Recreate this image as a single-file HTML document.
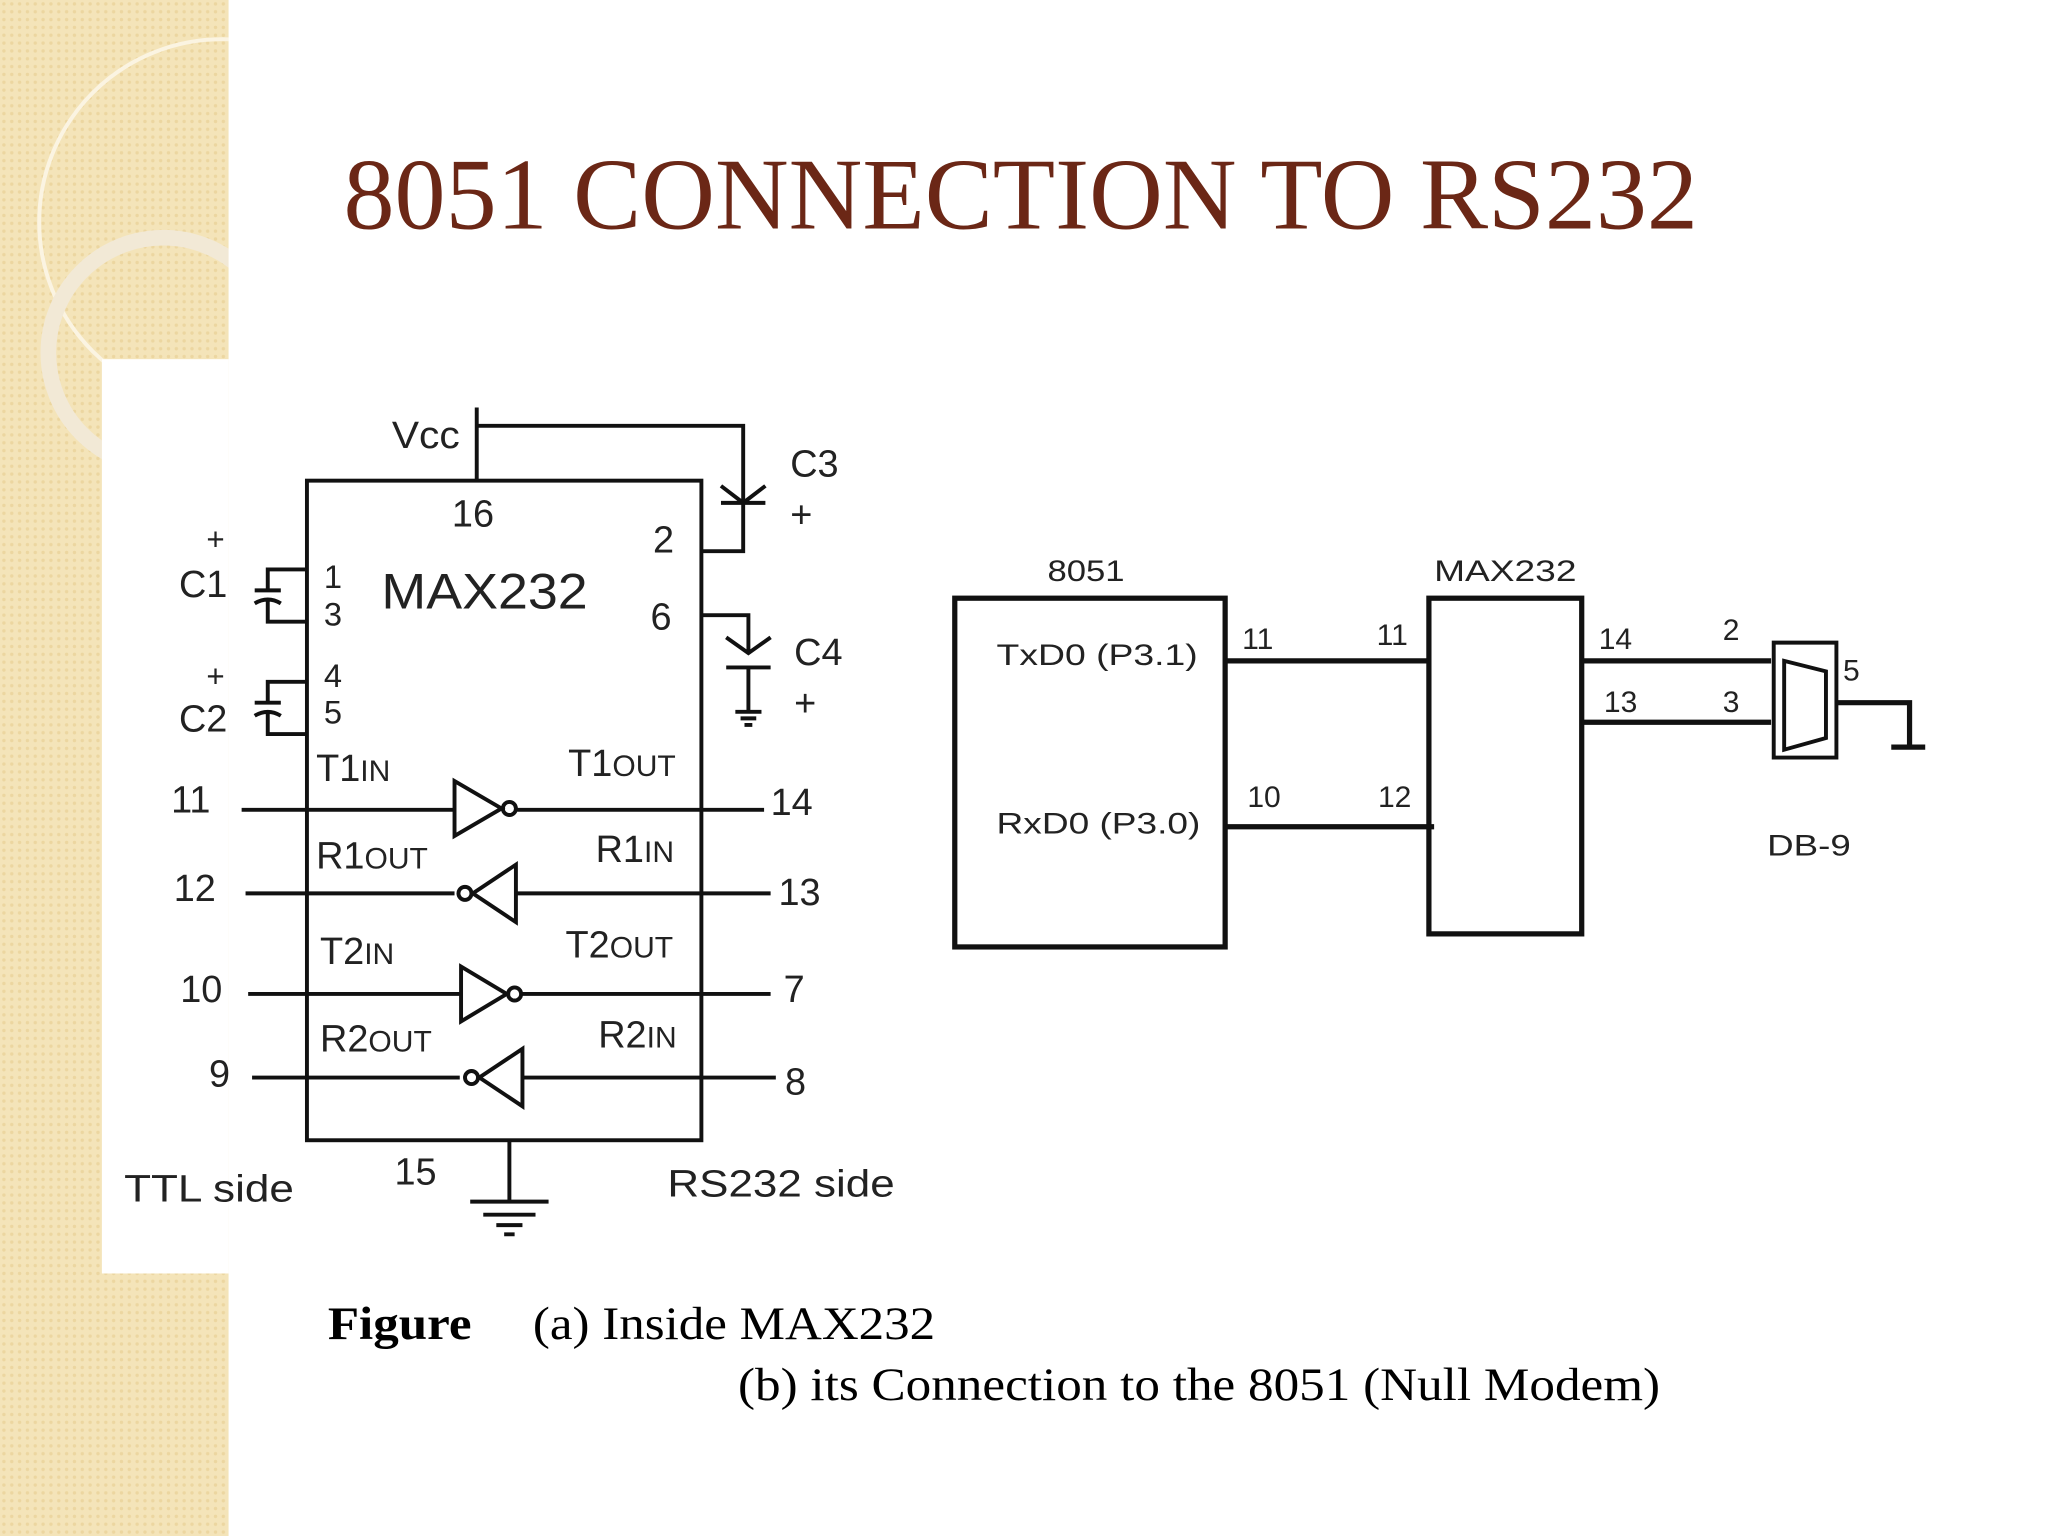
<!DOCTYPE html>
<html><head><meta charset="utf-8"><style>
html,body{margin:0;padding:0;background:#fff}
svg{display:block}
text{font-family:"Liberation Sans",sans-serif;fill:#222}
.s{font-family:"Liberation Serif",serif;fill:#000}
</style></head><body>
<svg width="2048" height="1536" viewBox="0 0 1568 1176" preserveAspectRatio="none" xmlns="http://www.w3.org/2000/svg">
<defs>
<pattern id="p" width="6" height="6" patternUnits="userSpaceOnUse">
<rect width="6" height="6" fill="#f4e4b9"/><circle cx="3" cy="3" r="1.3" fill="#ecd6a0"/>
</pattern>
<clipPath id="c"><rect x="0" y="0" width="175" height="275"/><rect x="0" y="0" width="78" height="1176"/></clipPath>
</defs>
<rect x="0" y="0" width="175" height="1176" fill="url(#p)"/>
<g clip-path="url(#c)">
<circle cx="170" cy="170" r="140" fill="none" stroke="#fbf4e2" stroke-width="3"/>
<circle cx="125" cy="270" r="88" fill="none" stroke="#f2e9d6" stroke-width="12"/>
</g>
<rect x="78" y="275" width="97" height="700" fill="#fff"/>
<text x="263" y="175" class="s" font-size="78" textLength="1037" lengthAdjust="spacingAndGlyphs" style="fill:#6b2716">8051 CONNECTION TO RS232</text>

<g stroke="#111" stroke-width="3" fill="none">
<rect x="235" y="368" width="302" height="505"/>
<path d="M365 312V368M365 326H569V385M552 372L569 385L586 372M552 385H586M569 385V422H537"/>
<path d="M537 471H573V500M556 488L573 500L590 488M556 511H590M573 511V545M563 545H583M567 550H579M570 555H576"/>
<path d="M235 436H205V452M195 452H215M195 462Q205 456 215 462M205 460V476H235"/>
<path d="M235 522H205V538M195 538H215M195 548Q205 542 215 548M205 546V562H235"/>
<path d="M185 620H348M396 620H585"/>
<path d="M188 684H348M395 684H590"/>
<path d="M190 761H353M400 761H590"/>
<path d="M193 825H352M400 825H594"/>
<path d="M348 598V640L384 619Z"/>
<circle cx="390" cy="619" r="5"/>
<path d="M395 662V706L362 684Z"/>
<circle cx="356" cy="684" r="5"/>
<path d="M353 740V782L388 761Z"/>
<circle cx="394" cy="761" r="5"/>
<path d="M400 803V847L367 825Z"/>
<circle cx="361" cy="825" r="5"/>
<path d="M390 873V920M360 920H420M370 930H410M380 938H400M386 945H394"/>
<rect x="731" y="458" width="207" height="267" stroke-width="4"/>
<rect x="1094" y="458" width="117" height="257" stroke-width="4"/>
<path d="M938 506H1094M938 633H1098M1211 506H1356M1211 553H1356" stroke-width="4"/>
<path d="M1358 492H1406V580H1358ZM1366 506L1398 514V565L1366 574Z"/>
<path d="M1406 538H1462V572M1448 572H1474" stroke-width="4"/>
</g>
<g font-size="29">
<text x="300" y="343" textLength="52" lengthAdjust="spacingAndGlyphs">Vcc</text>
<text x="605" y="365">C3</text>
<text x="605" y="404">+</text>
<text x="608" y="509">C4</text>
<text x="608" y="548">+</text>
<text x="346" y="403">16</text>
<text x="500" y="423">2</text>
<text x="498" y="482">6</text>
<text x="292" y="466" font-size="38" textLength="158" lengthAdjust="spacingAndGlyphs">MAX232</text>
<text x="158" y="421" font-size="24">+</text>
<text x="137" y="457">C1</text>
<text x="248" y="450" font-size="25">1</text>
<text x="248" y="479" font-size="25">3</text>
<text x="158" y="526" font-size="24">+</text>
<text x="137" y="560">C2</text>
<text x="248" y="526" font-size="25">4</text>
<text x="248" y="554" font-size="25">5</text>
<text x="242" y="598">T1<tspan font-size="23">IN</tspan></text>
<text x="435" y="594">T1<tspan font-size="23">OUT</tspan></text>
<text x="131" y="622">11</text>
<text x="590" y="624">14</text>
<text x="242" y="665">R1<tspan font-size="23">OUT</tspan></text>
<text x="456" y="660">R1<tspan font-size="23">IN</tspan></text>
<text x="133" y="690">12</text>
<text x="596" y="693">13</text>
<text x="245" y="738">T2<tspan font-size="23">IN</tspan></text>
<text x="433" y="733">T2<tspan font-size="23">OUT</tspan></text>
<text x="138" y="767">10</text>
<text x="600" y="767">7</text>
<text x="245" y="805">R2<tspan font-size="23">OUT</tspan></text>
<text x="458" y="802">R2<tspan font-size="23">IN</tspan></text>
<text x="160" y="832">9</text>
<text x="601" y="838">8</text>
<text x="95" y="920" textLength="130" lengthAdjust="spacingAndGlyphs">TTL side</text>
<text x="302" y="907">15</text>
<text x="511" y="916" textLength="174" lengthAdjust="spacingAndGlyphs">RS232 side</text>
</g>
<g font-size="23">
<text x="802" y="445" textLength="59" lengthAdjust="spacingAndGlyphs">8051</text>
<text x="1098" y="445" textLength="109" lengthAdjust="spacingAndGlyphs">MAX232</text>
<text x="763" y="509" textLength="154" lengthAdjust="spacingAndGlyphs">TxD0 (P3.1)</text>
<text x="763" y="638" textLength="156" lengthAdjust="spacingAndGlyphs">RxD0 (P3.0)</text>
<text x="951" y="497">11</text>
<text x="1054" y="494">11</text>
<text x="955" y="618">10</text>
<text x="1055" y="618">12</text>
<text x="1224" y="497">14</text>
<text x="1319" y="490">2</text>
<text x="1228" y="545">13</text>
<text x="1319" y="545">3</text>
<text x="1411" y="521">5</text>
<text x="1353" y="655" textLength="64" lengthAdjust="spacingAndGlyphs">DB-9</text>
</g>
<text x="251" y="1025" class="s" font-size="36" font-weight="bold" textLength="110" lengthAdjust="spacingAndGlyphs">Figure</text>
<text x="408" y="1025" class="s" font-size="36" textLength="308" lengthAdjust="spacingAndGlyphs">(a) Inside MAX232</text>
<text x="565" y="1072" class="s" font-size="36" textLength="706" lengthAdjust="spacingAndGlyphs">(b) its Connection to the 8051 (Null Modem)</text>
</svg>
</body></html>
